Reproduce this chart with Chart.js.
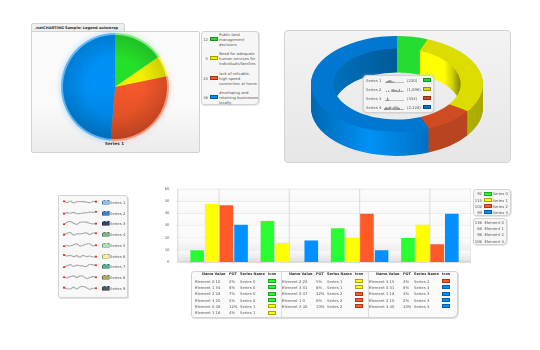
<!DOCTYPE html>
<html>
<head>
<meta charset="utf-8">
<script src="https://cdn.jsdelivr.net/npm/chart.js@4"></script>
<style>
html, body { margin: 0; padding: 0; background: #fff; overflow: hidden; }
body { width: 540px; height: 350px; position: relative; font: 3.8px/5px "DejaVu Sans", sans-serif; color: #555; }
.abs { position: absolute; white-space: nowrap; }
.panel { position: absolute; box-sizing: border-box; border: 1px solid #d2d2d2; border-radius: 2px; background: #f7f7f7; }
.box { border-radius: 3px; background: #f6f6f6; box-shadow: 1px 1px 0 #e4e4e4; }
.swatch { position: absolute; box-sizing: border-box; border: 0.5px solid rgba(0,0,0,.35); }
canvas { position: absolute; }
</style>
</head>
<body>
<script>
const pieLabels = ['Public land\nmanagement\ndecisions', 'Need for adequate\nhuman services for\nindividuals/families', 'lack of relicable,\nhigh-speed\nconnection at home', 'developing and\nretaining businesses\nlocally'];
const pieValues = [12, 5, 23, 38];
const pieColors = ['#25e02a', '#f2f000', '#f4572a', '#0090f5'];
const pieHalo = ['rgba(37,224,42,.5)', 'rgba(242,240,0,.5)', 'rgba(244,87,42,.5)', 'rgba(0,144,245,.55)'];

const ringLabels = ['Series 1', 'Series 2', 'Series 3', 'Series 4'];
const ringValues = [220, 1096, 354, 2128];
const ringText = ['(220)', '(1,096)', '(354)', '(2,128)'];
const ringColors = ['#25dd30', '#dcdc00', '#cf4c22', '#0078d2'];
const ringMini1 = [0, 0, 1, 3, 4, 5, 6, 5, 4, 2, 3, 1, 1, 1, 1, 1, 1, 1, 1, 1];
const ringMini2 = [0, 0, 0, 2, 0, 3, 0, 0, 5, 6, 5, 4, 4, 3, 2, 6, 1, 3, 1, 1];
const ringMini3 = [0, 0, 1, 2, 7, 3, 1, 1, 1, 1, 1, 1, 1, 1, 1, 1, 1, 1, 1, 1];
const ringMini4 = [0, 3, 5, 6, 4, 5, 7, 6, 1, 5, 5, 8, 4, 7, 5, 4, 1, 2, 1, 1];

const sparkNames = ['Series 1', 'Series 2', 'Series 3', 'Series 4', 'Series 5', 'Series 6', 'Series 7', 'Series 8', 'Series 9'];
const sparkColors = ['#8fbfe8', '#3f80c0', '#2f4470', '#86b08c', '#a8e0c0', '#f0f0a0', '#58b088', '#a8a860', '#505860'];
const spark1 = [70, 40, 75, 35, 60, 65, 62, 55, 38, 66, 62];
const spark2 = [42, 62, 50, 68, 40, 45, 55, 60, 72, 68, 80];
const spark3 = [28, 72, 85, 50, 28, 68, 75, 72, 50, 38, 42];
const spark4 = [42, 70, 85, 32, 60, 55, 70, 78, 42, 75, 70];
const spark5 = [30, 40, 35, 62, 78, 35, 50, 75, 78, 35, 50];
const spark6 = [75, 55, 70, 42, 62, 30, 70, 40, 55, 35, 42];
const spark7 = [30, 65, 82, 45, 72, 60, 55, 45, 90, 78, 70];
const spark8 = [50, 35, 62, 78, 42, 78, 70, 25, 42, 62, 50];
const spark9 = [62, 42, 35, 72, 35, 78, 85, 62, 28, 50, 48];

const barLabels = ['Element 0', 'Element 1', 'Element 2', 'Element 3'];
const barSeries = ['Series 0', 'Series 1', 'Series 2', 'Series 3'];
const series0 = [10, 34, 28, 20];
const series1 = [48, 16, 20, 31];
const series2 = [47, 0, 40, 15];
const series3 = [31, 18, 10, 40];
const barColors = ['#28ff30', '#ffff00', '#ff5a28', '#0090ff'];
const yTicks = [0, 10, 20, 30, 40, 50, 60];
const seriesTotals = [92, 115, 102, 99];
const elementTotals = [136, 68, 98, 106];
const tableElements = [0, 1, 2, 3, 0, 1, 2, 3, 0, 1, 2, 3, 0, 1, 2, 3];
const tablePot = ['2%', '8%', '7%', '5%', '12%', '4%', '5%', '8%', '12%', '0%', '10%', '4%', '8%', '4%', '2%', '10%'];

Chart.defaults.animation = false;
Chart.defaults.responsive = false;
Chart.defaults.font.family = '"DejaVu Sans", sans-serif';
Chart.defaults.font.size = 3.8;
Chart.defaults.color = '#666';
Chart.defaults.plugins.legend.display = false;
Chart.defaults.plugins.tooltip.enabled = false;

function put(left, top, text, css) {
    const d = document.createElement('div');
    d.className = 'abs';
    d.style.cssText = 'left:' + left + 'px;top:' + top + 'px;' + (css || '');
    d.textContent = text;
    document.body.appendChild(d);
    return d;
}
function panel(left, top, w, h, extra, cls) {
    const d = document.createElement('div');
    d.className = 'panel ' + (cls || '');
    d.style.cssText = 'left:' + left + 'px;top:' + top + 'px;width:' + w + 'px;height:' + h + 'px;' + (extra || '');
    document.body.appendChild(d);
    return d;
}
function swatch(left, top, w, h, color) {
    const d = document.createElement('div');
    d.className = 'swatch';
    d.style.cssText = 'left:' + left + 'px;top:' + top + 'px;width:' + w + 'px;height:' + h + 'px;background:' + color;
    document.body.appendChild(d);
    return d;
}
function canvas(left, top, w, h) {
    const c = document.createElement('canvas');
    c.width = w;
    c.height = h;
    c.style.left = left + 'px';
    c.style.top = top + 'px';
    document.body.appendChild(c);
    return c;
}

// pie, top left
panel(31, 23, 94, 10, 'background:#efefef');
put(35, 25.5, '.netCHARTING Sample: Legend autowrap', 'font-weight:bold;color:#333;font-size:3.6px');
panel(31, 31, 169, 122, 'background:linear-gradient(#fafafa 60%,#ececec)');

const pieGlow = {
    id: 'pieGlow',
    beforeDatasetsDraw(chart) {
        const ctx = chart.ctx;
        chart.getDatasetMeta(0).data.forEach((arc, i) => {
            ctx.save();
            ctx.shadowColor = pieHalo[i];
            ctx.shadowBlur = 6;
            ctx.fillStyle = pieHalo[i];
            ctx.beginPath();
            ctx.moveTo(arc.x, arc.y);
            ctx.arc(arc.x, arc.y, arc.outerRadius + 2, arc.startAngle, arc.endAngle);
            ctx.closePath();
            ctx.fill();
            ctx.restore();
        });
    },
    afterDatasetsDraw(chart) {
        const ctx = chart.ctx;
        const arc = chart.getDatasetMeta(0).data[0];
        const r = arc.outerRadius;
        let g = ctx.createRadialGradient(arc.x, arc.y, r * 0.55, arc.x, arc.y, r);
        g.addColorStop(0, 'rgba(0,0,0,0)');
        g.addColorStop(1, 'rgba(0,0,0,.14)');
        ctx.fillStyle = g;
        ctx.beginPath();
        ctx.arc(arc.x, arc.y, r, 0, Math.PI * 2);
        ctx.fill();
        g = ctx.createLinearGradient(0, arc.y, 0, arc.y + r);
        g.addColorStop(0, 'rgba(0,0,0,0)');
        g.addColorStop(1, 'rgba(0,0,0,.12)');
        ctx.fillStyle = g;
        ctx.beginPath();
        ctx.arc(arc.x, arc.y, r, 0, Math.PI * 2);
        ctx.fill();
    }
};
new Chart(canvas(51, 23, 128, 128).getContext('2d'), {
    type: 'pie',
    data: { labels: pieLabels, datasets: [{ data: pieValues, backgroundColor: pieColors, borderWidth: 0, radius: 52 }] },
    plugins: [pieGlow]
});
put(105, 141, 'Series 1', 'font-weight:bold;color:#333;font-size:4.2px');

panel(201, 31, 58, 74, 'border-radius:3px 3px 5px 3px', 'box');
const pieRows = [39, 58, 78, 97];
pieLabels.forEach((label, i) => {
    put(199, pieRows[i] - 2.5, String(pieValues[i]), 'width:9px;text-align:right');
    swatch(210, pieRows[i] - 2, 8, 4, pieColors[i]);
    label.split('\n').forEach((line, j) => put(219, pieRows[i] - 7.5 + j * 5, line));
});

// ring, top right
panel(284, 30, 227, 133, 'border-radius:4px;background:linear-gradient(#f3f3f3,#e6e6e6)');

// side wall shading per slice, stops run left to right
const wallOuter = [
    ['#1cc028', '#1cc028'],
    ['#c8c800', '#a8a800'],
    ['#b84420', '#9c3a18'],
    ['#0068b4', '#0092f5', '#0070c4']
];
const wallInner = [
    ['#25dd30', '#25dd30'],
    ['#ffff00', '#ffff00', '#ffff00', '#ffff00', '#d0d000', '#808000'],
    ['#a03c18', '#a03c18'],
    ['#0070bc', '#005a98']
];
const ringDepth = 24;
const ringSquash = 48 / 86;
function wallFill(ctx, stops, arc, inner, i) {
    const r = inner ? arc.innerRadius : arc.outerRadius;
    const from = arc.x + r * Math.cos(arc.startAngle);
    const blue = i === 3;
    const g = ctx.createLinearGradient(blue ? arc.x - r : from, 0, blue ? (inner ? arc.x : arc.x + 32) : arc.x + r, 0);
    stops.forEach((c, k) => g.addColorStop(k / (stops.length - 1), c));
    return g;
}
const ring3d = {
    id: 'ring3d',
    beforeDatasetsDraw(chart) {
        const ctx = chart.ctx;
        const arcs = chart.getDatasetMeta(0).data;
        const cx = arcs[0].x;
        const cy = arcs[0].y;
        ctx.save();
        for (let d = ringDepth; d > 0; d--) {
            ctx.save();
            ctx.translate(cx, cy + d);
            ctx.scale(1, ringSquash);
            ctx.translate(-cx, -cy);
            arcs.forEach((arc, i) => {
                ctx.fillStyle = wallFill(ctx, wallInner[i], arc, true, i);
                ctx.beginPath();
                ctx.arc(cx, cy, arc.innerRadius + 5, arc.startAngle, arc.endAngle);
                ctx.arc(cx, cy, arc.innerRadius, arc.endAngle, arc.startAngle, true);
                ctx.closePath();
                ctx.fill();
                ctx.fillStyle = wallFill(ctx, wallOuter[i], arc, false, i);
                ctx.beginPath();
                ctx.arc(cx, cy, arc.outerRadius, arc.startAngle, arc.endAngle);
                ctx.arc(cx, cy, arc.outerRadius - 5, arc.endAngle, arc.startAngle, true);
                ctx.closePath();
                ctx.fill();
            });
            ctx.restore();
        }
        ctx.translate(cx, cy);
        ctx.scale(1, ringSquash);
        ctx.translate(-cx, -cy);
    },
    afterDatasetsDraw(chart) {
        chart.ctx.restore();
    }
};
new Chart(canvas(297, -16, 200, 200).getContext('2d'), {
    type: 'doughnut',
    data: { labels: ringLabels, datasets: [{ data: ringValues, backgroundColor: ringColors, borderWidth: 0, radius: 86 }] },
    options: { cutout: 74, layout: { padding: 0 } },
    plugins: [ring3d]
});

panel(363, 75, 71, 38, 'border-radius:4px;background:#f4f4f4;box-shadow:0 0 2px #bbb');
const ringRows = [80, 89, 98, 107];
[ringMini1, ringMini2, ringMini3, ringMini4].forEach((mini, i) => {
    put(366, ringRows[i] - 2.5, ringLabels[i]);
    new Chart(canvas(383, ringRows[i] - 4, 21, 7).getContext('2d'), {
        type: 'bar',
        data: { labels: mini.map((v, k) => k), datasets: [{ data: mini, backgroundColor: '#666', barPercentage: 0.75, categoryPercentage: 1 }] },
        options: { layout: { padding: 0 }, scales: { x: { display: false }, y: { display: false, min: 0, max: 14 } } }
    });
    put(407, ringRows[i] - 2.5, ringText[i]);
    swatch(423, ringRows[i] - 2, 8, 4, ringColors[i]);
});

// sparklines, left
panel(58, 195, 70, 103, 'border-radius:2px 4px 2px 2px;box-shadow:1px 1px 0 #e0e0e0;background:#f8f8f8');
const sparkRows = [202, 213, 223, 234, 245, 256, 266, 277, 288];
[spark1, spark2, spark3, spark4, spark5, spark6, spark7, spark8, spark9].forEach((values, i) => {
    new Chart(canvas(60, sparkRows[i] - 6, 40, 12).getContext('2d'), {
        type: 'line',
        data: {
            labels: values.map((v, k) => k),
            datasets: [{
                data: values,
                borderColor: '#a8a8a8',
                borderWidth: 1.1,
                tension: 0.3,
                pointRadius: values.map((v, k) => (k === 0 || k === values.length - 1) ? 1.1 : 0),
                pointBackgroundColor: '#e03020',
                pointBorderWidth: 0
            }]
        },
        options: { layout: { padding: { left: 2, right: 2 } }, scales: { x: { display: false }, y: { display: false, min: 15, max: 95 } } }
    });
    const icon = swatch(102, sparkRows[i] - 2.5, 7.5, 5, sparkColors[i]);
    icon.style.clipPath = 'polygon(0 35%,30% 10%,60% 25%,100% 0,100% 100%,0 100%)';
    put(110, sparkRows[i] - 2.5, sparkNames[i]);
});

// bars, bottom
const plotBands = {
    id: 'plotBands',
    beforeDatasetsDraw(chart) {
        const ctx = chart.ctx;
        const a = chart.chartArea;
        const y = chart.scales.y;
        const x = chart.scales.x;
        const left = a.left - 6;
        const w = a.width + 12;
        yTicks.slice(0, -1).forEach((v, i) => {
            const bottom = y.getPixelForValue(v);
            const top = y.getPixelForValue(yTicks[i + 1]);
            const g = ctx.createLinearGradient(0, top, 0, bottom);
            const shade = 248 - (i === 0 ? 24 : i === 1 ? 10 : 0);
            g.addColorStop(0, 'rgb(253,253,253)');
            g.addColorStop(1, 'rgb(' + shade + ',' + shade + ',' + shade + ')');
            ctx.fillStyle = g;
            ctx.fillRect(left, top, w, bottom - top);
            ctx.fillStyle = '#e2e2e2';
            ctx.fillRect(left, top, w, 0.7);
            ctx.fillRect(left - 2, bottom - 0.3, 2, 0.7);
        });
        ctx.fillStyle = '#e0e0e0';
        barLabels.forEach((l, i) => ctx.fillRect(x.getPixelForValue(i) - 0.6, a.top, 1.2, a.height));
        ctx.fillStyle = '#c8c8c8';
        ctx.fillRect(left - 0.5, a.top, 0.7, a.height);
        ctx.fillRect(left, a.bottom - 0.3, w, 0.9);
        ctx.fillStyle = '#dcdcdc';
        ctx.fillRect(left + w - 0.5, a.top, 0.7, a.height);
    }
};
new Chart(canvas(160, 180, 311, 92).getContext('2d'), {
    type: 'bar',
    data: {
        labels: barLabels,
        datasets: [series0, series1, series2, series3].map((values, i) => ({
            label: barSeries[i],
            data: values,
            backgroundColor: barColors[i],
            borderColor: 'rgba(0,0,0,.08)',
            borderWidth: 0.5,
            barPercentage: 1,
            categoryPercentage: 0.832
        }))
    },
    options: {
        layout: { padding: { top: 0, right: 6 } },
        scales: {
            x: {
                grid: { display: false },
                border: { display: false },
                ticks: { padding: 2, maxRotation: 0 },
                afterFit(s) { s.height = 10; }
            },
            y: {
                min: 0, max: 60,
                grid: { display: false },
                border: { display: false },
                ticks: { stepSize: 10, padding: 6.5 },
                afterFit(s) { s.width = 24; }
            }
        }
    },
    plugins: [plotBands]
});

// bar legends
panel(473, 189, 38, 27, 'border-radius:3px 3px 5px 3px', 'box');
const legendRows = [193.5, 200, 206, 212];
barSeries.forEach((name, i) => {
    put(474, legendRows[i] - 2.5, String(seriesTotals[i]), 'width:8px;text-align:right');
    swatch(483.5, legendRows[i] - 2, 8, 4, barColors[i]);
    put(492.5, legendRows[i] - 2.5, name);
});
panel(473, 218, 34, 27, 'border-radius:3px 3px 5px 3px', 'box');
const elementRows = [222, 228, 234.5, 241];
barLabels.forEach((name, i) => {
    put(474, elementRows[i] - 2.5, String(elementTotals[i]), 'width:8px;text-align:right');
    put(484.5, elementRows[i] - 2.5, name);
});

// data table
panel(191, 271, 267, 47, 'border-radius:3px 3px 6px 3px;background:#fafafa;box-shadow:1px 1px 0 #ddd');
const tableCols = [0, 87, 174];
const tableCounts = [6, 5, 5];
const tableRows = [281, 287.3, 293.6, 300, 306.3, 312.6];
const tableValues = [series0, series1, series2, series3];
const headStyle = 'font-weight:bold;color:#333;font-size:3.5px';
let tableIndex = 0;
tableCols.forEach((offset, c) => {
    put(202 + offset, 271.5, 'Name Value', headStyle);
    put(229 + offset, 271.5, 'POT', headStyle);
    put(240 + offset, 271.5, 'Series Name', headStyle);
    put(268 + offset, 271.5, 'Icon', headStyle);
    for (let r = 0; r < tableCounts[c]; r++) {
        const s = Math.floor(tableIndex / 4);
        const e = tableElements[tableIndex];
        put(195 + offset, tableRows[r] - 2.5, barLabels[e] + ' ' + tableValues[s][e]);
        put(229 + offset, tableRows[r] - 2.5, tablePot[tableIndex]);
        put(240 + offset, tableRows[r] - 2.5, barSeries[s]);
        swatch(268 + offset, tableRows[r] - 2, 8, 4, barColors[s]);
        tableIndex++;
    }
    if (c > 0) {
        const line = panel(194 + offset - 0.5, 272, 1, 45, 'border:0;border-radius:0;background:#ddd');
        line.style.width = '0.7px';
    }
});
</script>
</body>
</html>
